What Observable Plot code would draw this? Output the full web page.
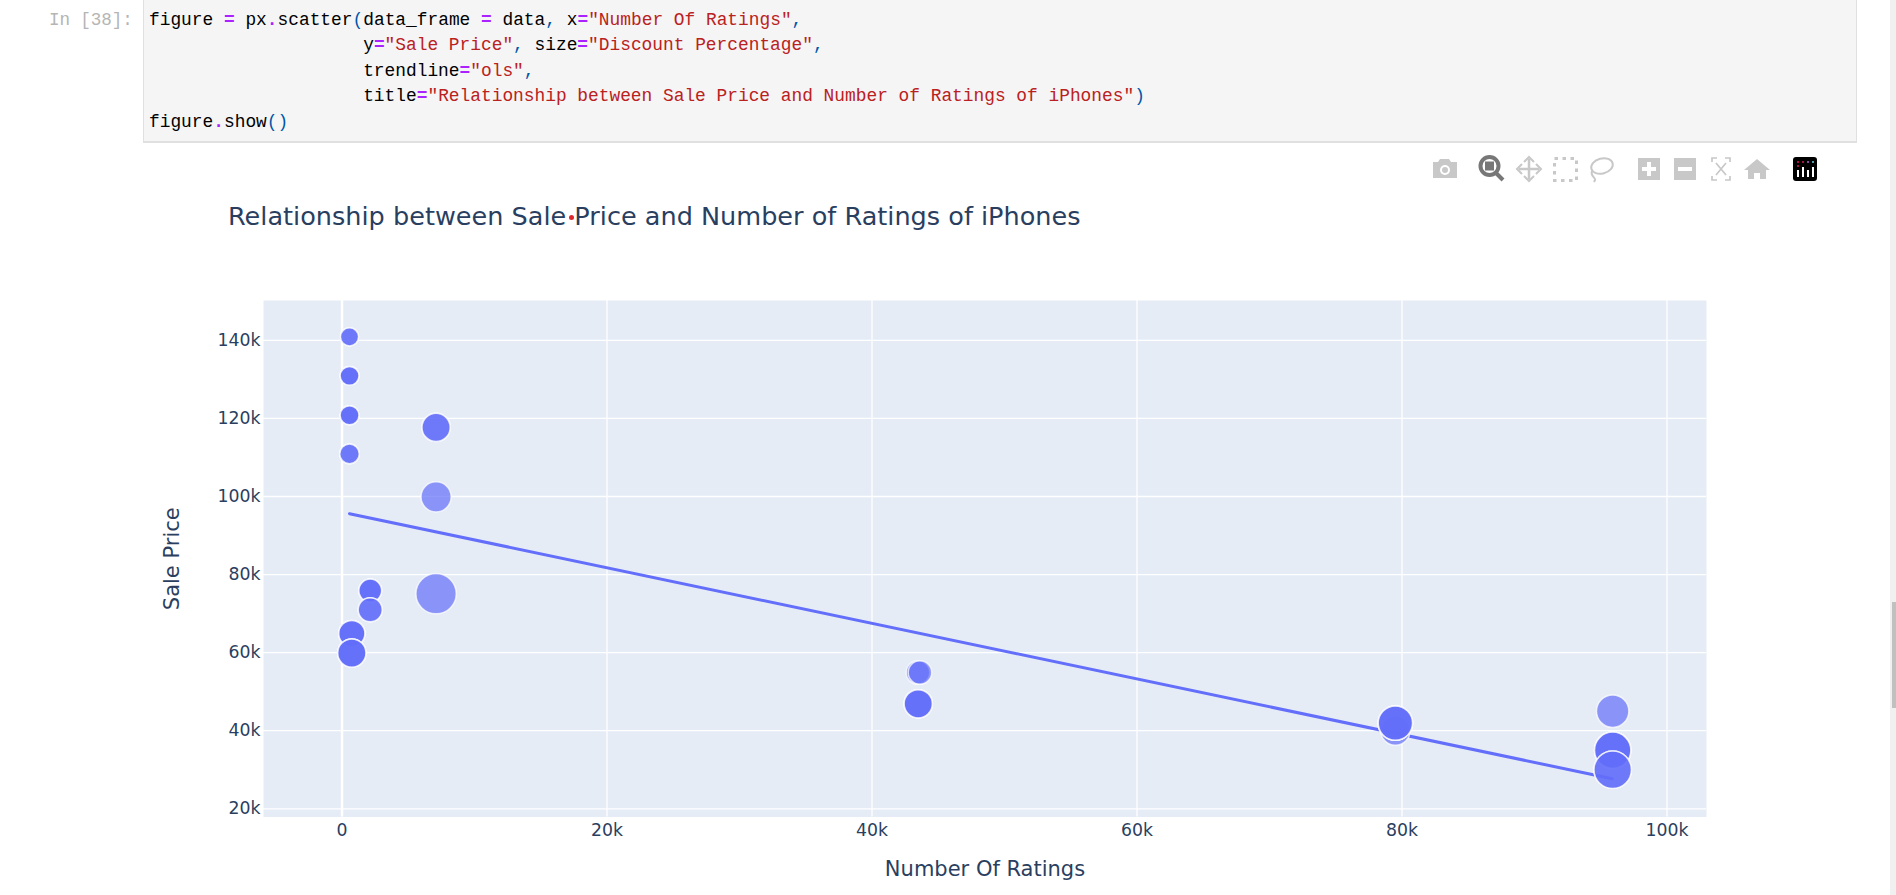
<!DOCTYPE html>
<html><head><meta charset="utf-8">
<script src="https://cdn.jsdelivr.net/npm/d3@7"></script>
<script src="https://cdn.jsdelivr.net/npm/@observablehq/plot@0.6"></script>
<style>
html,body{margin:0;padding:0;background:#fff;overflow:hidden;width:1896px;height:895px}
#prompt{position:absolute;left:49px;top:7.5px;font:17.6px/25.6px "Liberation Mono",monospace;color:#b5b5b5;letter-spacing:-.1px;white-space:pre}
#cell{position:absolute;left:143px;top:-2px;width:1712px;height:142px;background:#f5f5f5;border:1px solid #e0e0e0;border-width:1px 1px 2px 1px;box-sizing:content-box}
#code{position:absolute;left:149px;top:7.5px;margin:0;font:17.85px/25.6px "Liberation Mono",monospace;color:#000;white-space:pre}
.o{color:#a2f;font-weight:bold}.s{color:#ba2121}.p{color:#05a}
#title{position:absolute;left:228px;top:199px;font:25.55px/34px "DejaVu Sans",sans-serif;color:#2a3f5f;white-space:pre}
#laser{position:absolute;left:569px;top:214.5px;width:5px;height:5px;border-radius:50%;background:#e0262b}
#tools{position:absolute;left:1420px;top:150px}
#track{position:absolute;left:1890px;top:0;width:6px;height:895px;background:#f0f0f0}
#thumb{position:absolute;left:1892px;top:602px;width:4px;height:106px;background:#c0c0c0}
#chart{position:absolute;left:0;top:240px}
</style></head><body>
<div id="cell"></div>
<div id="prompt">In [38]:</div>
<pre id="code">figure <span class="o">=</span> px<span class="o">.</span>scatter<span class="p">(</span>data_frame <span class="o">=</span> data<span class="p">,</span> x<span class="o">=</span><span class="s">"Number Of Ratings"</span><span class="p">,</span>
                    y<span class="o">=</span><span class="s">"Sale Price"</span><span class="p">,</span> size<span class="o">=</span><span class="s">"Discount Percentage"</span><span class="p">,</span>
                    trendline<span class="o">=</span><span class="s">"ols"</span><span class="p">,</span>
                    title<span class="o">=</span><span class="s">"Relationship between Sale Price and Number of Ratings of iPhones"</span><span class="p">)</span>
figure<span class="o">.</span>show<span class="p">()</span></pre>
<svg id="tools" width="400" height="38" viewBox="1420 150 400 38">
  <g fill="#c8c8c8">
    <path d="M1433 162h5l2-3h9l2 3h6v16h-24z"/><circle cx="1445" cy="170" r="5" fill="#fff"/><circle cx="1445" cy="170" r="3"/>
    <rect x="1638" y="158" width="22" height="22"/><rect x="1674" y="158" width="22" height="22"/>
    <path d="M1757 159l-13 11h4v9h6v-6h6v6h6v-9h4z"/>
  </g>
  <rect x="1647" y="162" width="4" height="14" fill="#fff"/><rect x="1642" y="167" width="14" height="4" fill="#fff"/>
  <rect x="1678" y="167" width="14" height="4" fill="#fff"/>
  <g fill="none" stroke="#c8c8c8" stroke-width="3">
    <path d="M1529 159v20M1519 169h20" stroke-width="2.5"/>
    <path d="M1524 162l5-5 5 5M1524 176l5 5 5-5M1522 164l-5 5 5 5M1536 164l5 5-5 5" stroke-width="2"/>
    <rect x="1554.5" y="158.5" width="22" height="22" stroke-dasharray="3.5 4.5" stroke-width="3"/>
    <ellipse cx="1602" cy="166" rx="11" ry="7.5" stroke-width="2" transform="rotate(-15 1602 166)"/>
    <path d="M1592 171c-2 5 4 7 3 9l-1 2" stroke-width="2"/>
    <path d="M1712 162v-4h5M1725 158h5v4M1730 176v4h-5M1717 180h-5v-4M1716 163l10 12M1726 163l-10 12" stroke-width="1.7"/>
  </g>
  <circle cx="1489.5" cy="166" r="9" fill="#fff" stroke="#777" stroke-width="4"/><rect x="1485" y="161.500" width="9" height="9" fill="#777"/>
  <path d="M1496 173l7 7" stroke="#777" stroke-width="4"/>
  <rect x="1793" y="157" width="24" height="24" rx="3" fill="#000"/>
  <g fill="#fff"><rect x="1797" y="170" width="2" height="7"/><rect x="1802" y="167" width="2" height="10"/><rect x="1807" y="170" width="2" height="7"/><rect x="1812" y="167" width="2" height="10"/></g>
  <g fill="#e0195a"><circle cx="1798" cy="162" r="1"/><circle cx="1798" cy="166" r="1"/><circle cx="1803" cy="162" r="1"/></g>
  <circle cx="1808" cy="162" r="1" fill="#b05cd0"/><circle cx="1813" cy="162" r="1" fill="#6fd8e0"/>
</svg>
<div id="title">Relationship between Sale Price and Number of Ratings of iPhones</div>
<div id="laser"></div>
<div id="chart"></div>
<div id="track"></div><div id="thumb"></div>
<script>
// Rows, in drawing order; repeated rows are the duplicates in the dataset,
// which is why some bubbles look denser.
const ratings = [566,566,570,570,570,570,570,570,566,566,
  7100,7100,7100,7100,
  2130,2130,2130,2130,2130,
  740,740,740,740,740,740,
  43470,43620,43490,43490,43490,
  79500,79500,79500,79500,
  95900,95900,95900,95900,95900,95900];
const salePrice = [140900,140900,130900,130900,130900,120800,120800,120800,110900,110900,
  117700,117700,99900,75100,
  75900,75900,75900,71000,71000,
  64900,64900,64900,59900,59900,59900,
  54900,54900,46900,46900,46900,
  40000,41950,41950,41950,
  45000,35000,35000,35000,30000,30000];
const discount = [6,6,6.5,6.5,6.5,6.5,6.5,6.5,7,7,
  14.5,14.5,16.5,29.5,
  9.5,9.5,9.5,10.5,10.5,
  12.5,12.5,12.5,14.5,14.5,14.5,
  10,10,14.5,14.5,14.5,
  15.5,21.5,21.5,21.5,
  19,24,24,24,25.5,25.5];
const trendRatings = [566,95870];
const trendPrice = [95600,27700];
const xTicks = [0,20000,40000,60000,80000,100000];
const yTicks = [20000,40000,60000,80000,100000,120000,140000];

const rows = ratings.map((x,i)=>({x,y:salePrice[i],d:discount[i]}));
const trend = trendRatings.map((x,i)=>({x,y:trendPrice[i]}));
const fmt = d => d===0 ? "0" : d/1000+"k";
const ink = "#2a3f5f", blue = "#636efa";

const chart = Plot.plot({
  width:1890, height:655,
  marginLeft:263, marginRight:184, marginTop:60, marginBottom:78.5,
  style:{fontFamily:'"DejaVu Sans",sans-serif',background:"transparent",color:ink},
  x:{domain:[-5925,102981]},
  y:{domain:[17900,150200]},
  r:{type:"sqrt",domain:[0,29],range:[0,20]},
  marks:[
    Plot.frame({fill:"#e5ecf6",stroke:null}),
    Plot.gridX(xTicks,{stroke:"#fff",strokeOpacity:1,strokeWidth:1.3}),
    Plot.gridY(yTicks,{stroke:"#fff",strokeOpacity:1,strokeWidth:1.3}),
    Plot.ruleX([0],{stroke:"#fff",strokeWidth:2.5}),
    Plot.axisX(xTicks,{tickFormat:fmt,tickSize:0,tickPadding:7,fontSize:17.3,label:null,fill:ink}),
    Plot.axisY(yTicks,{tickFormat:fmt,tickSize:0,tickPadding:3,fontSize:17.3,label:null,fill:ink}),
    Plot.text(["Number Of Ratings"],{frameAnchor:"bottom",dy:59,fontSize:21,fill:ink}),
    Plot.text(["Sale Price"],{frameAnchor:"left",textAnchor:"middle",rotate:-90,dx:-91,fontSize:21,fill:ink}),
    Plot.line(trend,{x:"x",y:"y",stroke:blue,strokeWidth:3}),
    Plot.dot(rows,{x:"x",y:"y",r:"d",sort:null,fill:blue,fillOpacity:.7,stroke:"#fff",strokeOpacity:.75,strokeWidth:1.5})
  ]
});
document.getElementById("chart").appendChild(chart);
</script>
</body></html>
